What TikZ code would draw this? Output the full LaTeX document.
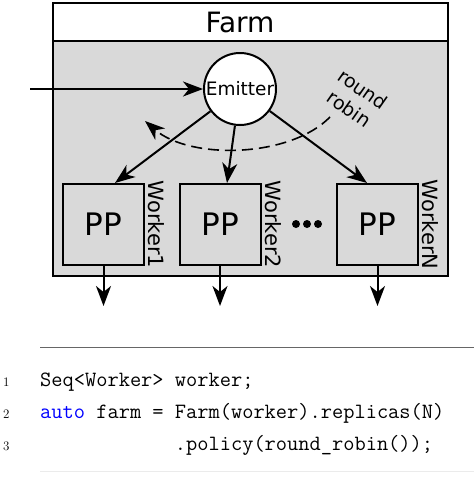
\documentclass[tikz,border=0pt]{standalone}
\usepackage{fontspec}
\setsansfont{DejaVu Sans}
\usetikzlibrary{arrows.meta, positioning, calc}
\definecolor{farmgray}{RGB}{217,217,217}

\begin{document}
\begin{tikzpicture}[
  x=1pt, y=-1pt,
  frame/.style={draw, line width=2pt, outer sep=0pt, inner sep=0pt,
                minimum width=395pt},
  worker/.style={draw, line width=2pt, fill=farmgray, minimum size=81pt,
                 inner sep=0pt, font=\sffamily\fontsize{31}{31}\selectfont},
  wlbl/.style={rotate=-90, anchor=south, inner sep=0pt,
               font=\sffamily\fontsize{21}{21}\selectfont},
  arrow/.style={-{Stealth[length=20pt, width=15pt, inset=6pt]}, line width=2pt},
  code/.style={anchor=base west, inner sep=0pt,
               font=\ttfamily\fontsize{21.8}{26}\selectfont},
  lnum/.style={anchor=base west, inner sep=0pt, font=\fontsize{13}{15}\selectfont}
]
\useasboundingbox (0,0) rectangle (474,482);

% Farm frame
\node[frame, fill=white, minimum height=38pt] (head) at (250.5,22) {};
\node[frame, fill=farmgray, minimum height=235pt, below=0pt of head] (body) {};
\node[font=\sffamily\fontsize{28}{28}\selectfont] (farm) at (240,22) {Farm};

\node[draw, circle, line width=2pt, fill=white, minimum size=72pt, inner sep=0pt,
      font=\sffamily\fontsize{18.5}{18.5}\selectfont] (em) at (240,89) {Emitter};

\node[worker] (w1) at (103.5,224.5) {PP};
\node[worker] (w2) at (220,224.5) {PP};
\node[worker] (wN) at (377.5,224.5) {PP};

\node[wlbl] (l1) at ($(w1.east)+(3,0)$) {Worker1};
\node[wlbl] (l2) at ($(w2.east)+(3,0)$) {Worker2};
\node[wlbl] (lN) at ($(wN.east)+(3,0)$) {WorkerN};

\foreach \dx in {-11,0,11}
  \fill (307+\dx,224) circle (4pt);

\coordinate (in) at (30,89);
\draw[arrow] (in) -- (em);
\draw[arrow] (em) -- ($(w1.north)+(11.5,0)$);
\draw[arrow] (em) -- ($(w2.north)+(7,0)$);
\draw[arrow] (em) -- ($(wN.north)+(-10.5,0)$);

\foreach \w in {w1,w2,wN} {
  \coordinate (\w out) at ($(\w.south)+(0,40)$);
  \draw[arrow] (\w) -- (\w out);
}

% round robin
\coordinate (rrS) at (330,117);
\coordinate (rrE) at (145,121);
\draw[arrow, line width=1.6pt, dash pattern=on 11pt off 6pt]
  (rrS) .. controls (290,158) and (190,160) .. (rrE);
\node[font=\sffamily\fontsize{19}{24}\selectfont, rotate=-35, align=center]
  (rr) at (356,99) {round\\robin};

% listing
\coordinate (topL) at (40,347);
\coordinate (topR) at (474,347);
\draw[black!60, line width=0.8pt] (topL) -- (topR);
\coordinate (botL) at (40,471);
\coordinate (botR) at (474,471);
\draw[black!8, line width=1pt] (botL) -- (botR);

\node[lnum] (n1) at (3,386) {1};
\node[lnum] (n2) at (3,418) {2};
\node[lnum] (n3) at (3,450) {3};
\node[code] (c1) at (40,386) {Seq<Worker> worker;};
\node[code] (c2) at (40,418) {\textcolor{blue}{auto} farm = Farm(worker).replicas(N)};
\node[code] (c3) at (40,450) {\phantom{auto~farm~=~}.policy(round\_robin());};

\end{tikzpicture}
\end{document}
